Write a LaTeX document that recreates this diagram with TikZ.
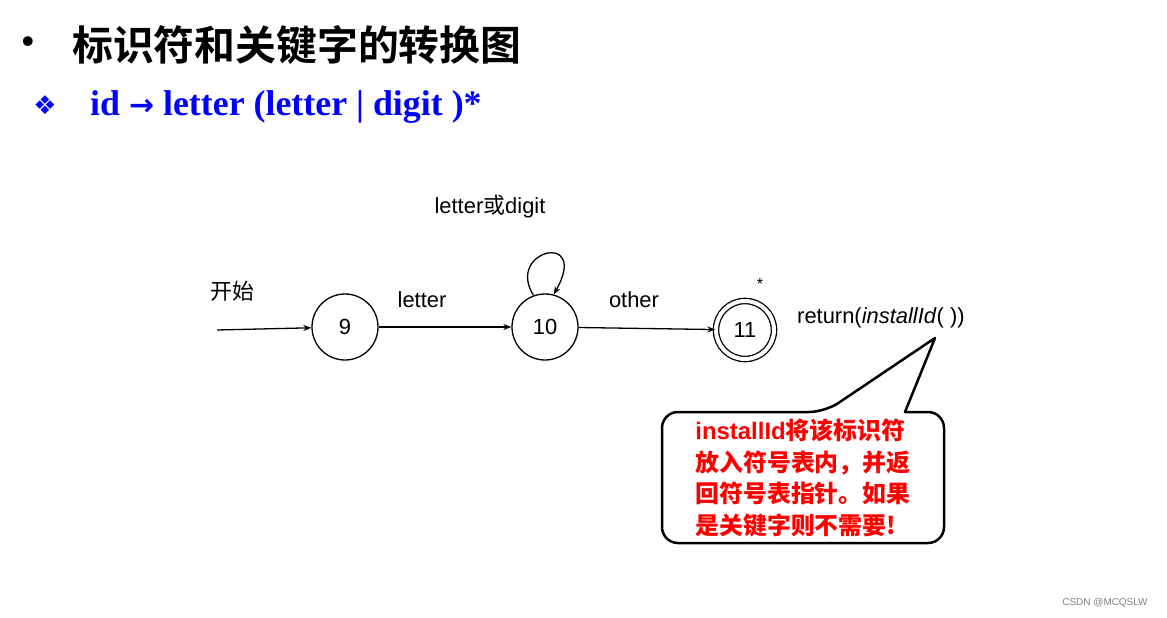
\documentclass[tikz,border=0pt]{standalone}
\usepackage{fontspec}
\usetikzlibrary{arrows.meta}
\setmainfont{Liberation Sans}
\newfontfamily\cjk{Noto Sans CJK SC}
\newfontfamily\cjkb{Noto Sans CJK SC Bold}
\newfontfamily\tms{Liberation Serif}
\newfontfamily\dv{DejaVu Sans}
\definecolor{tblue}{RGB}{0,0,255}
\definecolor{tred}{RGB}{255,0,0}
\begin{document}
\begin{tikzpicture}[x=1bp,y=-1bp,
  st/.style={draw,line width=1.3bp,circle,minimum size=66bp,inner sep=0pt,font=\fontsize{22}{24}\selectfont},
  lbl/.style={font=\fontsize{22}{24}\selectfont,inner sep=0pt},
  arr/.style={-{Stealth[length=8bp,width=6bp]},line width=1.3bp}]
\useasboundingbox (0,0) rectangle (1167,618);
\node[inner sep=0pt] (b) at (28,45) {\fontsize{36}{40}\selectfont •};
\node[inner sep=0pt,anchor=west] (t) at (72,45) {\cjkb\fontsize{41}{44}\selectfont 标识符和关键字的转换图};
\node[inner sep=0pt,text=tblue] (d) at (45,105) {\dv\fontsize{26}{28}\selectfont ❖};
\node[inner sep=0pt,anchor=west,text=tblue] (g) at (90,107) {\tms\bfseries\fontsize{36}{40}\selectfont id {\dv\bfseries\fontsize{30}{30}\selectfont →} letter (letter | digit )*};
\node[st] (s9) at (345,327) {9};
\node[st] (s10) at (545,327) {10};
\node[st,double,double distance=4bp,minimum size=58bp] (s11) at (745,330) {11};
\coordinate (start) at (217,330);
\draw[arr] (start) -- (s9);
\draw[arr] (s9) -- (s10);
\draw[arr] (s10) -- (s11);
\draw[arr] (s10.110) .. controls (505,250) and (590,230) .. (s10.75);
\node[lbl] (ks) at (232,291) {\cjk 开始};
\node[lbl] (l1) at (422,300) {letter};
\node[lbl] (l2) at (634,300) {other};
\node[lbl] (l3) at (490,207) {letter\cjk 或\rmfamily digit};
\node[lbl] (star) at (760,284) {\fontsize{16}{18}\selectfont *};
\node[lbl,anchor=west] (ret) at (797,318) {return(\textit{installId}( ))};
\draw[line width=2.5bp,line join=round] [rounded corners=16] (662,477) |- (825,412) [sharp corners] -- (935,338) -- (905,412) [rounded corners=16] -| (944,477) |- (662,543) -- cycle;
\node[text=tred,align=left,font=\bfseries\fontsize{24}{32}\selectfont,inner sep=0pt] (call) at (803,478) {installId{\cjkb 将该标识符}\\{\cjkb 放入符号表内，并返}\\{\cjkb 回符号表指针。如果}\\{\cjkb 是关键字则不需要!}};
\node[text=gray,font=\fontsize{10}{12}\selectfont,inner sep=0pt] (csdn) at (1105,603) {CSDN @MCQSLW};
\end{tikzpicture}
\end{document}
